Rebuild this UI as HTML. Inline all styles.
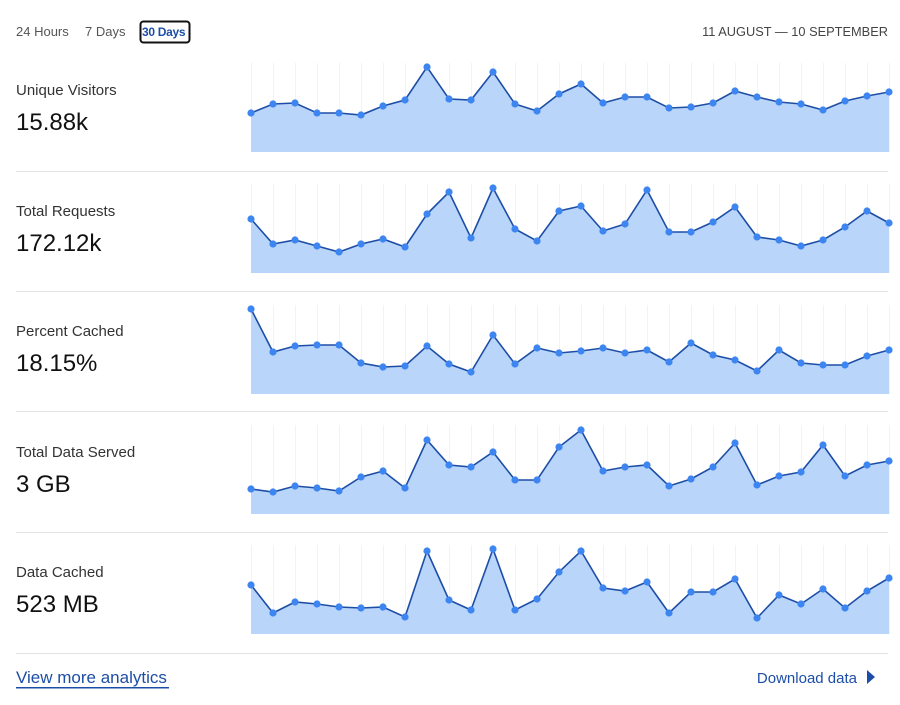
<!DOCTYPE html>
<html><head><meta charset="utf-8"><style>
html,body{margin:0;padding:0;background:#fff;}
svg{display:block;font-family:"Liberation Sans",sans-serif;}
.poly{fill:#b9d5fa;stroke:none}
.line{fill:none;stroke:#1d4ea6;stroke-width:1.6;marker-start:url(#d);marker-mid:url(#d);marker-end:url(#d)}
.lbl{font-size:15px;fill:#333}
.val{font-size:24px;fill:#111}
</style></head><body>
<svg width="900" height="705" viewBox="0 0 900 705">
<defs>
<marker id="d" markerUnits="userSpaceOnUse" markerWidth="10" markerHeight="10" refX="5" refY="5"><circle cx="5" cy="5" r="3.6" fill="#3d85f0"/></marker>
<pattern id="g" x="251" y="0" width="22" height="705" patternUnits="userSpaceOnUse"><rect x="0" y="0" width="1" height="705" fill="#f0f3fa"/></pattern>
</defs>
<text x="16" y="36" font-size="13" fill="#555">24 Hours</text>
<text x="85" y="36" font-size="13" fill="#555">7 Days</text>
<rect x="140.5" y="21.5" width="49" height="21" rx="3" fill="none" stroke="#111" stroke-width="2"/>
<text x="142" y="36" font-size="12" font-weight="bold" letter-spacing="-0.3" fill="#1d4ea6">30 Days</text>
<text x="888" y="36" font-size="12.8" fill="#444" text-anchor="end">11 AUGUST — 10 SEPTEMBER</text>

<g fill="#e3e3e3"><rect x="16" y="171" width="872" height="1"/><rect x="16" y="291" width="872" height="1"/><rect x="16" y="411" width="872" height="1"/><rect x="16" y="532" width="872" height="1"/><rect x="16" y="653" width="872" height="1"/></g>

<text class="lbl" x="16" y="95">Unique Visitors</text><text class="val" x="16" y="130">15.88k</text>
<text class="lbl" x="16" y="216">Total Requests</text><text class="val" x="16" y="251">172.12k</text>
<text class="lbl" x="16" y="336">Percent Cached</text><text class="val" x="16" y="371">18.15%</text>
<text class="lbl" x="16" y="457">Total Data Served</text><text class="val" x="16" y="492">3 GB</text>
<text class="lbl" x="16" y="577">Data Cached</text><text class="val" x="16" y="612">523 MB</text>

<rect x="250" y="63" width="640" height="89" fill="url(#g)"/>
<rect x="250" y="184" width="640" height="89" fill="url(#g)"/>
<rect x="250" y="305" width="640" height="89" fill="url(#g)"/>
<rect x="250" y="425" width="640" height="89" fill="url(#g)"/>
<rect x="250" y="545" width="640" height="89" fill="url(#g)"/>

<polygon class="poly" points="251,152 251,113 273,104 295,103 317,113 339,113 361,115 383,106 405,100 427,67 449,99 471,100 493,72 515,104 537,111 559,94 581,84 603,103 625,97 647,97 669,108 691,107 713,103 735,91 757,97 779,102 801,104 823,110 845,101 867,96 889,92 889,152"/>
<polyline class="line" points="251,113 273,104 295,103 317,113 339,113 361,115 383,106 405,100 427,67 449,99 471,100 493,72 515,104 537,111 559,94 581,84 603,103 625,97 647,97 669,108 691,107 713,103 735,91 757,97 779,102 801,104 823,110 845,101 867,96 889,92"/>

<polygon class="poly" points="251,273 251,219 273,244 295,240 317,246 339,252 361,244 383,239 405,247 427,214 449,192 471,238 493,188 515,229 537,241 559,211 581,206 603,231 625,224 647,190 669,232 691,232 713,222 735,207 757,237 779,240 801,246 823,240 845,227 867,211 889,223 889,273"/>
<polyline class="line" points="251,219 273,244 295,240 317,246 339,252 361,244 383,239 405,247 427,214 449,192 471,238 493,188 515,229 537,241 559,211 581,206 603,231 625,224 647,190 669,232 691,232 713,222 735,207 757,237 779,240 801,246 823,240 845,227 867,211 889,223"/>

<polygon class="poly" points="251,394 251,309 273,352 295,346 317,345 339,345 361,363 383,367 405,366 427,346 449,364 471,372 493,335 515,364 537,348 559,353 581,351 603,348 625,353 647,350 669,362 691,343 713,355 735,360 757,371 779,350 801,363 823,365 845,365 867,356 889,350 889,394"/>
<polyline class="line" points="251,309 273,352 295,346 317,345 339,345 361,363 383,367 405,366 427,346 449,364 471,372 493,335 515,364 537,348 559,353 581,351 603,348 625,353 647,350 669,362 691,343 713,355 735,360 757,371 779,350 801,363 823,365 845,365 867,356 889,350"/>

<polygon class="poly" points="251,514 251,489 273,492 295,486 317,488 339,491 361,477 383,471 405,488 427,440 449,465 471,467 493,452 515,480 537,480 559,447 581,430 603,471 625,467 647,465 669,486 691,479 713,467 735,443 757,485 779,476 801,472 823,445 845,476 867,465 889,461 889,514"/>
<polyline class="line" points="251,489 273,492 295,486 317,488 339,491 361,477 383,471 405,488 427,440 449,465 471,467 493,452 515,480 537,480 559,447 581,430 603,471 625,467 647,465 669,486 691,479 713,467 735,443 757,485 779,476 801,472 823,445 845,476 867,465 889,461"/>

<polygon class="poly" points="251,634 251,585 273,613 295,602 317,604 339,607 361,608 383,607 405,617 427,551 449,600 471,610 493,549 515,610 537,599 559,572 581,551 603,588 625,591 647,582 669,613 691,592 713,592 735,579 757,618 779,595 801,604 823,589 845,608 867,591 889,578 889,634"/>
<polyline class="line" points="251,585 273,613 295,602 317,604 339,607 361,608 383,607 405,617 427,551 449,600 471,610 493,549 515,610 537,599 559,572 581,551 603,588 625,591 647,582 669,613 691,592 713,592 735,579 757,618 779,595 801,604 823,589 845,608 867,591 889,578"/>

<text x="16" y="683" font-size="17" fill="#1d4ea6">View more analytics</text>
<rect x="16" y="687" width="153" height="1.5" fill="#1d4ea6"/>
<text x="857" y="683" font-size="15" fill="#1d4ea6" text-anchor="end">Download data</text>
<polygon points="867,670 875,677 867,684" fill="#1d4ea6"/>
</svg>
</body></html>
